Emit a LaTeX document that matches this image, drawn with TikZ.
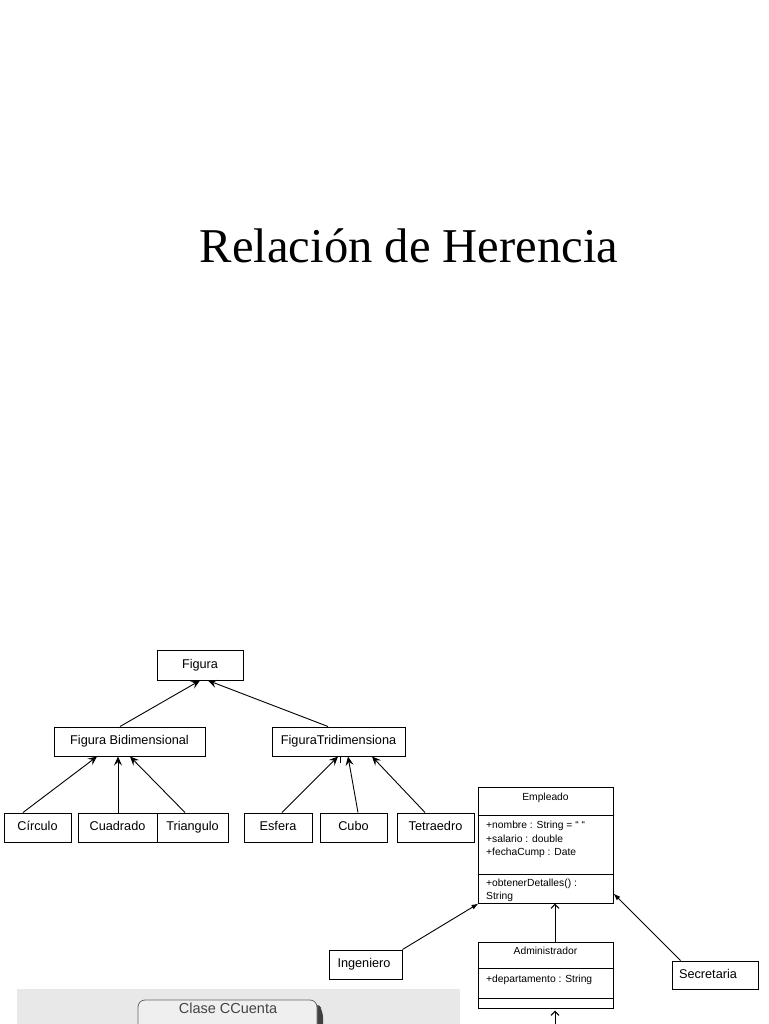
\documentclass[tikz,border=0pt]{standalone}
\usepackage{fontspec}
\setmainfont{Liberation Sans}
\newfontfamily\titlefont{Liberation Serif}
\usetikzlibrary{arrows.meta,calc}
\definecolor{bggray}{HTML}{E8E8E8}
\definecolor{txtgray}{HTML}{444444}
\begin{document}
\begin{tikzpicture}[x=1pt,y=-1pt,
  box/.style={draw,line width=1pt,inner sep=0pt,minimum height=29pt,text height=9pt,text depth=2.6pt,font=\fontsize{12.7}{14}\selectfont},
  umlbox/.style={draw,line width=1pt,inner sep=0pt,minimum width=135pt},
  small/.style={inner sep=0pt,text height=7.5pt,text depth=2.2pt,font=\fontsize{10.3}{12}\selectfont},
  gen/.style={line width=0.9pt,-{Stealth[length=9pt,width=8pt,inset=3.5pt]}},
  filled/.style={line width=0.9pt,-{Latex[length=7pt,width=5pt]}},
  openarr/.style={line width=0.9pt,-{Straight Barb[length=4pt,width=8pt,line width=1.2pt]}}
]
\useasboundingbox (0,0) rectangle (768,1024);
\fill[white] (0,0) rectangle (768,1024);

% title
\node[anchor=base,inner sep=0pt,font=\titlefont\fontsize{48.6}{56}\selectfont] (title) at (409,262) {Relación de Herencia};

% figure hierarchy
\node[box,minimum width=86pt,minimum height=30pt] (fig) at (200,665) {Figura};
\node[box,minimum width=151pt] (bid) at (129.5,741.5) {Figura Bidimensional};
\node[box,minimum width=133pt] (tri) at (338.5,741.5) {FiguraTridimensiona};
\node[box,minimum width=67pt] (cir) at (37.5,827.5) {Círculo};
\node[box,minimum width=79pt] (cua) at (117.5,827.5) {Cuadrado};
\node[box,minimum width=71pt] (tria) at (192.5,827.5) {Triangulo};
\node[box,minimum width=68pt] (esf) at (278,827.5) {Esfera};
\node[box,minimum width=67pt] (cubo) at (353.5,827.5) {Cubo};
\node[box,minimum width=77pt] (tet) at (435.5,827.5) {Tetraedro};

\draw[gen] ([xshift=-9.5pt]bid.north) -- ([xshift=0pt]fig.south);
\draw[gen] ([xshift=-10.5pt]tri.north) -- ([xshift=8pt]fig.south);
\draw[gen] ([xshift=-14.5pt]cir.north) -- ([xshift=-32.5pt]bid.south);
\draw[gen] ([xshift=0.5pt]cua.north) -- ([xshift=-11.5pt]bid.south);
\draw[gen] ([xshift=-7.5pt]tria.north) -- ([xshift=0.5pt]bid.south);
\draw[gen] ([xshift=4pt]esf.north) -- ([xshift=-0.5pt]tri.south);
\draw[gen] ([xshift=4.5pt]cubo.north) -- ([xshift=9.5pt]tri.south);
\draw[gen] ([xshift=-10.5pt]tet.north) -- ([xshift=33.5pt]tri.south);
\coordinate (tick) at (340,763);
\draw[line width=0.8pt] ([xshift=1.5pt]tri.south) -- (tick);

% Empleado diagram
\node[umlbox,minimum height=116pt] (emp) at (545.5,845) {};
\draw[line width=1pt] ([yshift=-29pt]emp.north west) -- ([yshift=-29pt]emp.north east);
\draw[line width=1pt] ([yshift=29pt]emp.south west) -- ([yshift=29pt]emp.south east);
\node[small] (empname) at (545.5,798) {Empleado};
\node[small,anchor=west] (a1) at (486,826) {+nombre : String = “ “};
\node[small,anchor=west] (a2) at (486,839.5) {+salario : double};
\node[small,anchor=west] (a3) at (486,853) {+fechaCump : Date};
\node[small,anchor=west] (m1) at (486,884) {+obtenerDetalles() :};
\node[small,anchor=west] (m2) at (486,897) {String};

\node[umlbox,minimum height=66pt] (adm) at (545.5,975) {};
\draw[line width=1pt] ([yshift=-27pt]adm.north west) -- ([yshift=-27pt]adm.north east);
\draw[line width=1pt] ([yshift=10pt]adm.south west) -- ([yshift=10pt]adm.south east);
\node[small] (admname) at (545.5,952) {Administrador};
\node[small,anchor=west] (d1) at (486,980) {+departamento : String};

\node[box,minimum width=73pt] (ing) at (365.5,964.5) {\hspace*{-3pt}Ingeniero};
\node[box,minimum width=86pt,minimum height=28pt] (sec) at (715,975) {\hspace*{-14pt}Secretaria};

\draw[filled] (ing.north east) -- ([xshift=1pt]emp.south west);
\draw[openarr] ([xshift=9.5pt]adm.north) -- ([xshift=9.5pt]emp.south);
\draw[filled] ([xshift=9pt]sec.north west) -- ([yshift=10pt]emp.south east);
\coordinate (bottomend) at (555,1026);
\draw[openarr] (bottomend) -- ([xshift=9.5pt,yshift=-2pt]adm.south);

% bottom grey screenshot strip
\fill[bggray] (17,989) rectangle (460,1026);
\fill[black!75] (140,1003) [rounded corners=7pt] -- (317,1003) -- (323,1010) [sharp corners] -- (323,1026) -- (140,1026) -- cycle;
\draw[fill=bggray!70,draw=black!60,line width=0.8pt,rounded corners=7pt] (138,1026) -- (138,1000) -- (317,1000) -- (317,1026);
\node[inner sep=0pt,text=txtgray,font=\fontsize{14.5}{16}\selectfont] (cc) at (228,1008.5) {Clase CCuenta};
\end{tikzpicture}
\end{document}
